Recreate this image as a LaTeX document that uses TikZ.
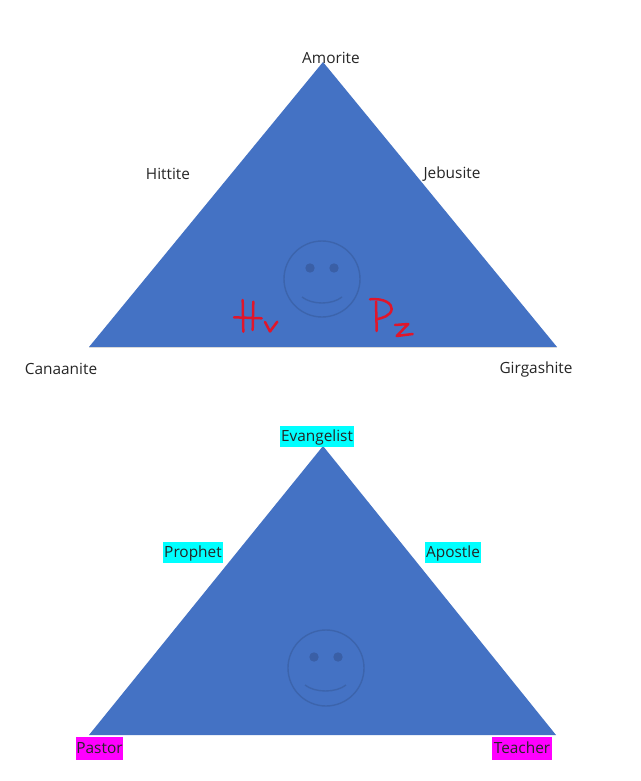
\documentclass[tikz,border=0pt]{standalone}
\usepackage{fontspec}
\setmainfont{Open Sans}
\definecolor{triblue}{HTML}{4472C4}
\definecolor{facedark}{HTML}{3C64AC}
\definecolor{eyedark}{HTML}{3A5FA6}
\definecolor{inkred}{HTML}{E0162B}
\definecolor{hicyan}{HTML}{00FFFF}
\definecolor{himag}{HTML}{FF00FF}
\tikzset{
  tri/.style={fill=triblue,draw=none},
  lbl/.style={font=\fontsize{15.4}{18}\selectfont,text=black!85,inner sep=0pt,anchor=center},
  cyanlbl/.style={lbl,fill=hicyan,minimum height=21pt,text depth=0pt},
  maglbl/.style={lbl,fill=himag,minimum height=23pt,text depth=0pt},
  faceline/.style={draw=facedark,line width=1.4pt},
  eye/.style={fill=eyedark,draw=none},
  ink/.style={draw=inkred,line width=2.5pt,line cap=round,line join=round}
}
\begin{document}
\begin{tikzpicture}[x=1pt,y=-1pt]
\useasboundingbox (0,0) rectangle (640,781);
\fill[white] (0,0) rectangle (640,781);
% upper triangle
\fill[tri] (323,62) -- (557,347) -- (89,347) -- cycle;
\draw[black!15,line width=0.8pt] (89,347.5) -- (557,347.5);
\draw[faceline] (322,279) circle (38);
\fill[eye] (310,268) circle (4.7);
\fill[eye] (334,268) circle (4.7);
\draw[faceline] (302,297) .. controls (312,305) and (332,305) .. (342,297);
\node[lbl] (amorite) at (331,58) {Amorite};
\node[lbl] (hittite) at (168,174) {Hittite};
\node[lbl] (jebusite) at (452,174) {Jebusite};
\node[lbl] (canaanite) at (61,369) {Canaanite};
\node[lbl] (girgashite) at (536,369) {Girgashite};
% handwritten marks
\draw[ink] (242.7,300) -- (243.3,331.7);
\draw[ink] (253.3,301.7) -- (252.7,330);
\draw[ink] (234,317.3) -- (261.7,318.3);
\draw[ink] (265,322) -- (270,331.5) -- (277.3,321.7);
\draw[ink] (376,301.7) -- (376.7,331);
\draw[ink] (370,299.3) .. controls (385,298) and (392,304) .. (391.7,309) .. controls (391,316) and (382,318) .. (376.7,319.3);
\draw[ink] (395,325) -- (408.3,324) -- (396.7,336) -- (412.7,334);
% lower triangle
\fill[tri] (323,446) -- (556,735) -- (89,735) -- cycle;
\draw[faceline] (326,668) circle (38);
\fill[eye] (314,657) circle (4.7);
\fill[eye] (338,657) circle (4.7);
\draw[faceline] (305,685) .. controls (315,693) and (336,693) .. (346,685);
\node[cyanlbl,minimum width=74pt] (evangelist) at (317,436) {Evangelist};
\node[cyanlbl,minimum width=60pt] (prophet) at (193,552) {Prophet};
\node[cyanlbl,minimum width=56pt] (apostle) at (453,552) {Apostle};
\node[maglbl,minimum width=47pt] (pastor) at (99.5,748) {Pastor};
\node[maglbl,minimum width=60pt] (teacher) at (522,748) {Teacher};
\end{tikzpicture}
\end{document}
